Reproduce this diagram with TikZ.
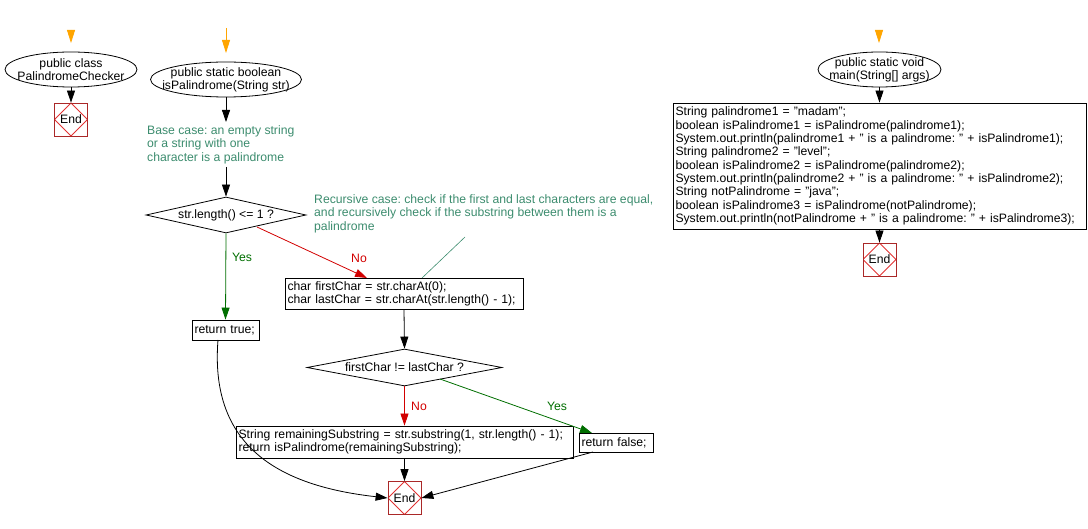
\documentclass[tikz,border=0pt]{standalone}
\usepackage{fontspec}
\setmainfont{Liberation Sans}
\usetikzlibrary{shapes.geometric,arrows.meta}
\frenchspacing
\newcommand{\dq}{\symbol{34}}
\definecolor{cmt}{RGB}{60,140,110}
\definecolor{yesg}{RGB}{0,110,0}
\definecolor{nor}{RGB}{210,0,0}
\definecolor{endb}{RGB}{170,40,40}
\definecolor{endd}{RGB}{225,50,50}
\definecolor{orng}{RGB}{255,165,0}
\begin{document}
\begin{tikzpicture}[x=1pt,y=-1pt,
  every node/.style={font=\fontsize{12.2}{13.3}\selectfont},
  base/.style={line width=0.8pt},
  arr/.style={base,-{Triangle[length=12pt,width=8pt]}},
  oarr/.style={base,draw=orng,-{Triangle[length=13pt,width=8pt]},orng},
  startel/.style={ellipse,draw,base,inner sep=0pt},
  codebox/.style={rectangle,draw,base,inner xsep=2.5pt,inner ysep=1pt,align=left},
  cond/.style={diamond,draw,base,inner sep=0pt},
  comment/.style={text=cmt,align=left,inner sep=0pt,anchor=north west},
  endnode/.style={rectangle,draw=endb,base,minimum width=33pt,minimum height=33pt,inner sep=0pt,
    path picture={\draw[endd,line width=0.8pt] (path picture bounding box.north) -- (path picture bounding box.east) -- (path picture bounding box.south) -- (path picture bounding box.west) -- cycle;}},
  lbl/.style={inner sep=0pt,align=center}
]
\useasboundingbox (0,0) rectangle (1088,529);

% ---- class
\coordinate (o1) at (71,30);
\coordinate (o1e) at (71,43);
\node[startel,minimum width=132pt,minimum height=35pt] (cls) at (71,69.5) {};
\node[lbl] (clst) at (cls.center) {public class\\PalindromeChecker};
\node[endnode] (e1) at (71,119.5) {End};
\draw[oarr] (o1) -- (o1e);
\draw[arr] (cls.south) -- (e1.north);

% ---- isPalindrome
\coordinate (o2) at (226,28);
\coordinate (o2e) at (226,53);
\node[startel,minimum width=151pt,minimum height=35pt] (isp) at (226,79.5) {};
\node[lbl] (ispt) at (isp.center) {public static boolean\\isPalindrome(String str)};
\node[comment] (c1) at (147,125.5) {Base case: an empty string\\or a string with one\\character is a palindrome};
\coordinate (c1t) at (226,122);
\coordinate (c1b) at (226,167);
\node[cond,aspect=4.44,minimum width=160pt,minimum height=36pt] (d1) at (226,215) {str.length() <= 1 ?};
\node[codebox,minimum width=67pt,minimum height=20pt,text width=62pt] (rt) at (225.5,330) {return true;};
\node[codebox,minimum width=238pt,minimum height=31pt,text width=233pt] (b1) at (404,293.5) {char firstChar = str.charAt(0);\\char lastChar = str.charAt(str.length() - 1);};
\node[comment] (c2) at (314,194.5) {Recursive case: check if the first and last characters are equal,\\and recursively check if the substring between them is a\\palindrome};
\coordinate (c2a) at (465,237);
\coordinate (c2b) at (422,278);
\node[cond,aspect=5.27,minimum width=195pt,minimum height=37pt] (d2) at (404.5,367.5) {firstChar != lastChar ?};
\node[codebox,minimum width=337pt,minimum height=32pt,text width=332pt] (b2) at (404.5,442) {String remainingSubstring = str.substring(1, str.length() - 1);\\return isPalindrome(remainingSubstring);};
\node[codebox,minimum width=74pt,minimum height=19pt,text width=69pt] (rf) at (616,442.5) {return false;};
\node[endnode] (e2) at (404.5,498) {End};

\draw[oarr] (o2) -- (o2e);
\draw[arr] (isp.south) -- (c1t);
\draw[arr] (c1b) -- (d1.north);
\draw[arr,draw=yesg,yesg] (d1.south) -- (rt.north);
\node[lbl,text=yesg] (yes1) at (242,257) {Yes};
\coordinate (d1n) at (257,227);
\coordinate (b1n) at (367,278);
\draw[arr,draw=nor,nor] (d1n) -- (b1n);
\node[lbl,text=nor] (no1) at (359,258) {No};
\draw[base,draw=cmt,line width=0.6pt] (c2a) -- (c2b);
\draw[arr] (b1.south) -- (d2.north);
\draw[arr,draw=nor,nor] (d2.south) -- (b2.north);
\node[lbl,text=nor] (no2) at (419,406) {No};
\coordinate (d2y) at (440,379);
\coordinate (rfn) at (592,433);
\draw[arr,draw=yesg,yesg] (d2y) -- (rfn);
\node[lbl,text=yesg] (yes2) at (557,406) {Yes};
\draw[arr] (b2.south) -- (e2.north);
\coordinate (rtb) at (218,340);
\draw[arr] (rtb) .. controls (210,440) and (270,485) .. (e2.west);
\coordinate (rfb) at (593,452);
\draw[arr] (rfb) -- (e2.east);

% ---- main
\coordinate (o3) at (879,30);
\coordinate (o3e) at (879,43);
\node[startel,minimum width=123pt,minimum height=35pt] (mn) at (879.5,69.5) {};
\node[lbl] (mnt) at (mn.center) {public static void\\main(String[] args)};
\node[codebox,minimum width=413pt,minimum height=126pt,text width=408pt] (mb) at (879.5,166) {String palindrome1 = \dq madam\dq;\\
boolean isPalindrome1 = isPalindrome(palindrome1);\\
System.out.println(palindrome1 + \dq\ is a palindrome: \dq\ + isPalindrome1);\\
String palindrome2 = \dq level\dq;\\
boolean isPalindrome2 = isPalindrome(palindrome2);\\
System.out.println(palindrome2 + \dq\ is a palindrome: \dq\ + isPalindrome2);\\
String notPalindrome = \dq java\dq;\\
boolean isPalindrome3 = isPalindrome(notPalindrome);\\
System.out.println(notPalindrome + \dq\ is a palindrome: \dq\ + isPalindrome3);};
\node[endnode] (e3) at (879.5,259.5) {End};
\draw[oarr] (o3) -- (o3e);
\draw[arr] (mn.south) -- (mb.north);
\draw[arr] (mb.south) -- (e3.north);
\end{tikzpicture}
\end{document}
